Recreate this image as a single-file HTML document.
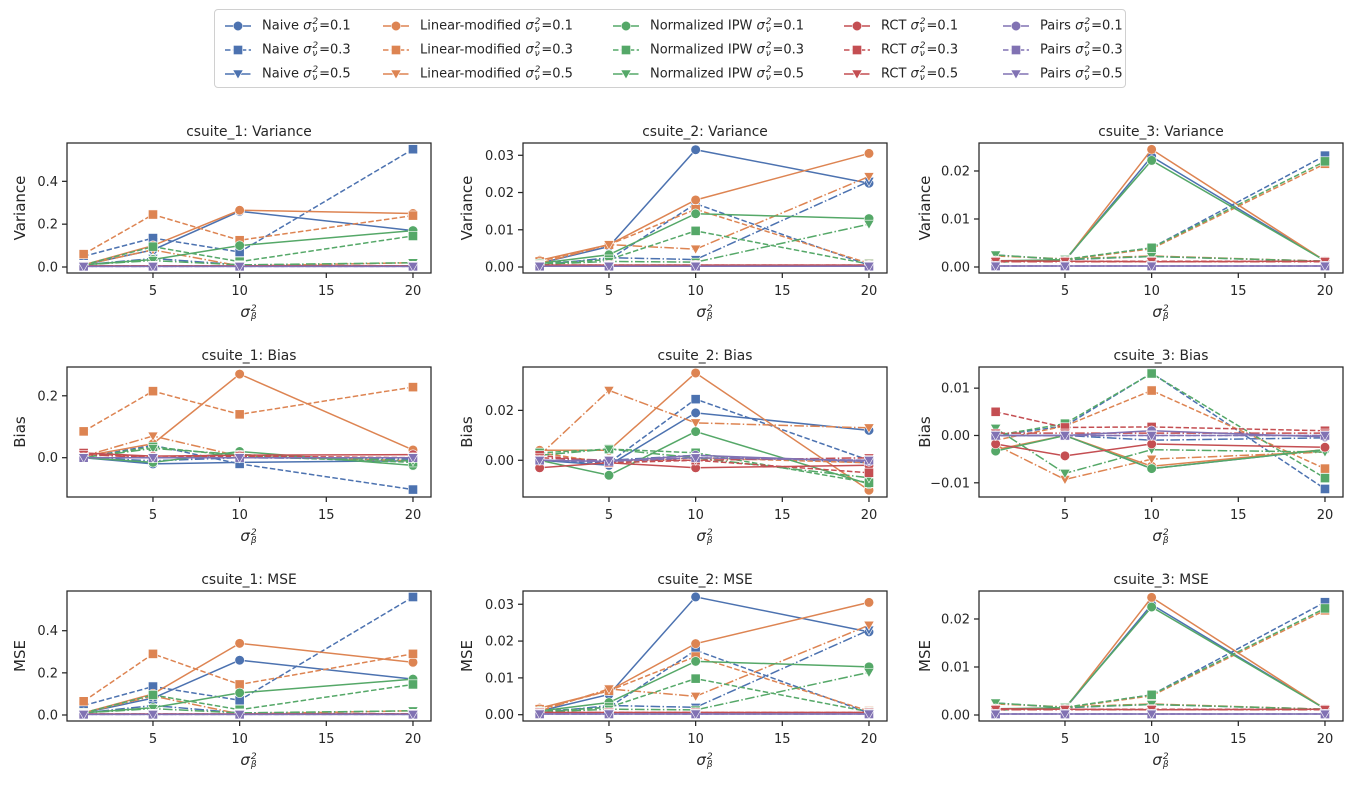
<!DOCTYPE html>
<html><head><meta charset="utf-8">
<style>
body{margin:0;background:#fff;width:1356px;height:787px;overflow:hidden;font-family:"DejaVu Sans","Liberation Sans",sans-serif;color:#262626;position:relative}
#legend{position:absolute;left:214px;top:9px;width:912px;height:79px;border:1px solid #d0d0d0;border-radius:4px;box-sizing:border-box}
.le{position:absolute;height:20px;font-size:13px;white-space:nowrap;display:flex;align-items:center}
.le svg{margin-right:11px}
.ss{display:inline-block;vertical-align:middle;line-height:8px;font-size:9px;margin:0 1px;font-style:italic}
.ss span{display:block}
.sig{font-style:italic}
.xl{position:absolute;font-size:15px;transform:translate(-50%,-50%);white-space:nowrap}
</style></head>
<body>
<div id="legend"></div>
<svg id="chart" width="1356" height="787" style="position:absolute;left:0;top:0"></svg>
<script>
const xs=[1,5,10,20];
const methods=["Naive","Linear-modified","Normalized IPW","RCT","Pairs"];
const sigmaV=["0.1","0.3","0.5"];
// each array: rows = sigma_v 0.1, 0.3, 0.5 ; cols = sigma_beta 1,5,10,20
const v1Naive=[[0.01,0.08,0.26,0.17],[0.05,0.135,0.07,0.55],[0.01,0.04,0.01,0.005]];
const v1Lin=[[0.01,0.10,0.265,0.25],[0.06,0.245,0.125,0.24],[0.01,0.08,0.005,0.02]];
const v1Ipw=[[0.01,0.035,0.10,0.17],[0.01,0.095,0.025,0.145],[0.01,0.03,0.01,0.02]];
const v1Rct=[[0.005,0.005,0.005,0.005],[0.005,0.005,0.005,0.005],[0.005,0.005,0.005,0.005]];
const v1Pairs=[[0.003,0.003,0.003,0.003],[0.003,0.003,0.003,0.003],[0.003,0.003,0.003,0.003]];
const v2Naive=[[0.001,0.0055,0.0315,0.0225],[0.001,0.002,0.017,0.0005],[0.0005,0.0025,0.002,0.023]];
const v2Lin=[[0.0018,0.006,0.018,0.0305],[0.0015,0.006,0.0155,0.001],[0.001,0.006,0.0048,0.0243]];
const v2Ipw=[[0.001,0.0033,0.0143,0.013],[0.0008,0.002,0.0097,0.0008],[0.0007,0.0015,0.0013,0.0115]];
const v2Rct=[[0.0005,0.0005,0.0005,0.0005],[0.0005,0.0005,0.0005,0.0005],[0.0005,0.0005,0.0005,0.0005]];
const v2Pairs=[[0.0002,0.0002,0.0002,0.0002],[0.0002,0.0002,0.0002,0.0002],[0.0002,0.0002,0.0002,0.0002]];
const v3Naive=[[0.0013,0.0013,0.023,0.0013],[0.001,0.0015,0.004,0.0232],[0.0025,0.0015,0.0022,0.0012]];
const v3Lin=[[0.0013,0.0013,0.0245,0.0013],[0.001,0.0015,0.0038,0.0215],[0.0023,0.0017,0.0023,0.0012]];
const v3Ipw=[[0.0013,0.0015,0.0222,0.0013],[0.001,0.0016,0.004,0.022],[0.0025,0.0016,0.0022,0.0012]];
const v3Rct=[[0.0013,0.0012,0.0011,0.0012],[0.0012,0.0012,0.0012,0.0012],[0.0011,0.0011,0.0011,0.0011]];
const v3Pairs=[[0.0002,0.0002,0.0002,0.0002],[0.0002,0.0002,0.0002,0.0002],[0.0002,0.0002,0.0002,0.0002]];
const b1Naive=[[0,-0.02,-0.015,-0.01],[0,0.04,-0.02,-0.103],[0,-0.01,0,-0.005]];
const b1Lin=[[0.005,0.045,0.27,0.025],[0.085,0.215,0.14,0.228],[0.005,0.07,0.005,-0.01]];
const b1Ipw=[[0,-0.015,0.02,-0.025],[0,0.035,0.005,-0.015],[0,0.03,0.01,-0.01]];
const b1Rct=[[0.015,0.005,0.008,0.01],[0.015,0,0.005,0],[0.01,0,0,0]];
const b1Pairs=[[0,0,0,0],[0,0,0,0],[0,0,0,0]];
const b2Naive=[[0,-0.002,0.019,0.012],[0,-0.001,0.0245,0],[0,0,0.002,-0.001]];
const b2Lin=[[0.004,0.004,0.035,-0.012],[0.003,-0.001,0.001,-0.001],[0.002,0.028,0.015,0.013]];
const b2Ipw=[[0,-0.006,0.0115,-0.0095],[0.003,0.0045,0.003,-0.009],[0.002,0.0045,0.001,-0.007]];
const b2Rct=[[-0.003,-0.001,-0.003,-0.002],[0.002,-0.001,0,-0.005],[0.001,0,0,0.001]];
const b2Pairs=[[0,-0.0005,0.002,-0.0005],[0,-0.0005,0.001,0],[0,0,0.001,0]];
const b3Naive=[[0,0,-0.007,-0.003],[0,0.002,0.0132,-0.0113],[0,0,-0.001,-0.0005]];
const b3Lin=[[-0.003,0,-0.0065,-0.003],[-0.001,0.002,0.0095,-0.007],[-0.002,-0.0093,-0.005,-0.0035]];
const b3Ipw=[[-0.0033,0,-0.007,-0.003],[0,0.0025,0.0131,-0.009],[0.0015,-0.008,-0.003,-0.0035]];
const b3Rct=[[-0.0018,-0.0043,-0.0018,-0.0025],[0.005,0.0017,0.0018,0.001],[0.0005,0.0005,0.0005,0.0005]];
const b3Pairs=[[0,0,0.001,-0.0003],[0,0,0,0],[0,0,0,0]];
const m1Naive=[[0.01,0.08,0.26,0.17],[0.045,0.135,0.07,0.56],[0.01,0.045,0.01,0.005]];
const m1Lin=[[0.01,0.10,0.34,0.25],[0.065,0.29,0.145,0.29],[0.01,0.09,0.005,0.02]];
const m1Ipw=[[0.01,0.035,0.105,0.17],[0.01,0.095,0.025,0.145],[0.01,0.03,0.01,0.02]];
const m1Rct=[[0.005,0.005,0.005,0.005],[0.005,0.005,0.005,0.005],[0.005,0.005,0.005,0.005]];
const m1Pairs=[[0.003,0.003,0.003,0.003],[0.003,0.003,0.003,0.003],[0.003,0.003,0.003,0.003]];
const m2Naive=[[0.001,0.0055,0.032,0.0225],[0.001,0.002,0.0175,0.0005],[0.0005,0.0025,0.002,0.023]];
const m2Lin=[[0.0018,0.0065,0.0193,0.0305],[0.0015,0.0065,0.0158,0.001],[0.001,0.007,0.005,0.0243]];
const m2Ipw=[[0.001,0.0033,0.0145,0.013],[0.0008,0.002,0.0098,0.0008],[0.0007,0.0015,0.0013,0.0115]];
const m2Rct=[[0.0006,0.0006,0.0006,0.0006],[0.0006,0.0006,0.0006,0.0006],[0.0006,0.0006,0.0006,0.0006]];
const m2Pairs=[[0.0002,0.0002,0.0002,0.0002],[0.0002,0.0002,0.0002,0.0002],[0.0002,0.0002,0.0002,0.0002]];
const m3Naive=[[0.0013,0.0013,0.023,0.0013],[0.001,0.0015,0.0042,0.0235],[0.0025,0.0015,0.0022,0.0012]];
const m3Lin=[[0.0013,0.0013,0.0245,0.0013],[0.001,0.0015,0.004,0.0218],[0.0023,0.0017,0.0023,0.0012]];
const m3Ipw=[[0.0013,0.0015,0.0225,0.0013],[0.001,0.0016,0.0042,0.0222],[0.0025,0.0016,0.0022,0.0012]];
const m3Rct=[[0.0013,0.0012,0.0011,0.0012],[0.0012,0.0012,0.0012,0.0012],[0.0011,0.0011,0.0011,0.0011]];
const m3Pairs=[[0.0002,0.0002,0.0002,0.0002],[0.0002,0.0002,0.0002,0.0002],[0.0002,0.0002,0.0002,0.0002]];
const xTicks=[5,10,15,20];
const ticksBig=[0,0.2,0.4], ticksBigLbl=["0.0","0.2","0.4"];
const ticks3=[0,0.01,0.02,0.03], ticks3Lbl=["0.00","0.01","0.02","0.03"];
const ticks2=[0,0.01,0.02], ticks2Lbl=["0.00","0.01","0.02"];
const ticksB1=[0,0.2], ticksB1Lbl=["0.0","0.2"];
const ticksB2=[0,0.02], ticksB2Lbl=["0.00","0.02"];
const ticksB3=[-0.01,0,0.01], ticksB3Lbl=["\u22120.01","0.00","0.01"];

const colors=["#4c72b0","#dd8452","#55a868","#c44e52","#8172b3"];
const dashes=["none","5.5,2.4","9.6,2.4,1.5,2.4"];
const colL=[67,523,979], colW=364;
const rowT=[143,367,591], rowH=130;
const ylOff=[47,56,54];
const panels=[
 {r:0,c:0,d:[v1Naive,v1Lin,v1Ipw,v1Rct,v1Pairs],y0:-0.028,y1:0.579,t:ticksBig,tl:ticksBigLbl,title:"csuite_1: Variance",yl:"Variance"},
 {r:0,c:1,d:[v2Naive,v2Lin,v2Ipw,v2Rct,v2Pairs],y0:-0.00161,y1:0.0333,t:ticks3,tl:ticks3Lbl,title:"csuite_2: Variance",yl:"Variance"},
 {r:0,c:2,d:[v3Naive,v3Lin,v3Ipw,v3Rct,v3Pairs],y0:-0.00125,y1:0.02583,t:ticks2,tl:ticks2Lbl,title:"csuite_3: Variance",yl:"Variance"},
 {r:1,c:0,d:[b1Naive,b1Lin,b1Ipw,b1Rct,b1Pairs],y0:-0.127,y1:0.293,t:ticksB1,tl:ticksB1Lbl,title:"csuite_1: Bias",yl:"Bias"},
 {r:1,c:1,d:[b2Naive,b2Lin,b2Ipw,b2Rct,b2Pairs],y0:-0.01471,y1:0.03738,t:ticksB2,tl:ticksB2Lbl,title:"csuite_2: Bias",yl:"Bias"},
 {r:1,c:2,d:[b3Naive,b3Lin,b3Ipw,b3Rct,b3Pairs],y0:-0.013,y1:0.01447,t:ticksB3,tl:ticksB3Lbl,title:"csuite_3: Bias",yl:"Bias"},
 {r:2,c:0,d:[m1Naive,m1Lin,m1Ipw,m1Rct,m1Pairs],y0:-0.0285,y1:0.5884,t:ticksBig,tl:ticksBigLbl,title:"csuite_1: MSE",yl:"MSE"},
 {r:2,c:1,d:[m2Naive,m2Lin,m2Ipw,m2Rct,m2Pairs],y0:-0.00171,y1:0.0336,t:ticks3,tl:ticks3Lbl,title:"csuite_2: MSE",yl:"MSE"},
 {r:2,c:2,d:[m3Naive,m3Lin,m3Ipw,m3Rct,m3Pairs],y0:-0.00125,y1:0.02583,t:ticks2,tl:ticks2Lbl,title:"csuite_3: MSE",yl:"MSE"}
];
const NS="http://www.w3.org/2000/svg";
const svg=document.getElementById('chart');
function mk(tag,attrs,parent){const e=document.createElementNS(NS,tag);for(const k in attrs)e.setAttribute(k,attrs[k]);(parent||svg).appendChild(e);return e;}
function marker(g,k,x,y,col){
  let m;
  if(k===0)m=mk('circle',{cx:x,cy:y,r:4.8,fill:col,stroke:'#fff','stroke-width':0.6},g);
  else if(k===1)m=mk('rect',{x:x-4.6,y:y-4.6,width:9.2,height:9.2,fill:col,stroke:'#fff','stroke-width':0.6},g);
  else m=mk('path',{d:`M${x-5.2},${y-4}L${x+5.2},${y-4}L${x},${y+5}Z`,fill:col,stroke:'#fff','stroke-width':0.6},g);
  return m;
}
panels.forEach(p=>{
  const L=colL[p.c],T=rowT[p.r],W=colW,H=rowH;
  const sx=v=>L+(v-0.04)/21*W;
  const sy=v=>T+H-(v-p.y0)/(p.y1-p.y0)*H;
  const g=mk('g',{});
  
  
  const clip='clip'+p.r+p.c;
  const cp=mk('clipPath',{id:clip},g);mk('rect',{x:L-2,y:T-2,width:W+4,height:H+4},cp);
  const plot=mk('g',{'clip-path':`url(#${clip})`},g);
  p.d.forEach((arr,mi)=>{
    arr.forEach((vals,k)=>{
      const s=mk('g',{},plot);
      
      
      const pts=vals.map((v,i)=>sx(xs[i])+','+sy(v)).join(' ');
      const ln=mk('polyline',{points:pts,fill:'none',stroke:colors[mi],'stroke-width':1.5},s);
      if(dashes[k]!=='none')ln.setAttribute('stroke-dasharray',dashes[k]);
      vals.forEach((v,i)=>marker(s,k,sx(xs[i]),sy(v),colors[mi]));
    });
  });
  const fr=mk('rect',{x:L,y:T,width:W,height:H,fill:'none',stroke:'#262626','stroke-width':1.25},g);
  
  
  xTicks.forEach(t=>{
    mk('line',{x1:sx(t),x2:sx(t),y1:T+H,y2:T+H+5,stroke:'#262626','stroke-width':1.25},g);
    const tx=mk('text',{x:sx(t),y:T+H+22,'text-anchor':'middle','font-size':13,fill:'#262626'},g);
    tx.textContent=t;
    
    
  });
  p.t.forEach((t,i)=>{
    mk('line',{x1:L-5,x2:L,y1:sy(t),y2:sy(t),stroke:'#262626','stroke-width':1.25},g);
    const tx=mk('text',{x:L-9,y:sy(t)+4.5,'text-anchor':'end','font-size':13,fill:'#262626'},g);
    tx.textContent=p.tl[i];
    
    
  });
  const ti=mk('text',{x:L+W/2,y:T-7,'text-anchor':'middle','font-size':13.8,fill:'#262626'},g);
  ti.textContent=p.title;
  
  
  const yx=L-ylOff[p.c],yy=T+H/2;
  const yl=mk('text',{x:yx,y:yy,'text-anchor':'middle','font-size':15,fill:'#262626',transform:`rotate(-90 ${yx} ${yy})`,dy:5},g);
  yl.textContent=p.yl;
  
  
  const xl=document.createElement('div');
  xl.className='xl';
  xl.style.left=(L+W/2)+'px';xl.style.top=(T+H+39)+'px';
  xl.innerHTML='<span class="sig">σ</span><span class="ss"><span>2</span><span>β</span></span>';
  
  
  document.body.appendChild(xl);
});
// legend
const legend=document.getElementById('legend');
const legX=[10,168,398,629,788];
const legY=[6,30,54];
methods.forEach((m,mi)=>{
  sigmaV.forEach((sv,k)=>{
    const e=document.createElement('div');
    e.className='le';
    e.style.left=legX[mi]+'px';e.style.top=legY[k]+'px';
    
    
    const hs=document.createElementNS(NS,'svg');
    hs.setAttribute('width',26);hs.setAttribute('height',14);
    const l=mk('line',{x1:0,x2:26,y1:7,y2:7,stroke:colors[mi],'stroke-width':1.5},hs);
    if(dashes[k]!=='none')l.setAttribute('stroke-dasharray',dashes[k]);
    marker(hs,k,13,7,colors[mi]);
    e.appendChild(hs);
    const sp=document.createElement('span');
    sp.innerHTML=m+' <span class="sig">σ</span><span class="ss"><span>2</span><span>ν</span></span>='+sv;
    e.appendChild(sp);
    legend.appendChild(e);
  });
});
</script>
</body></html>
